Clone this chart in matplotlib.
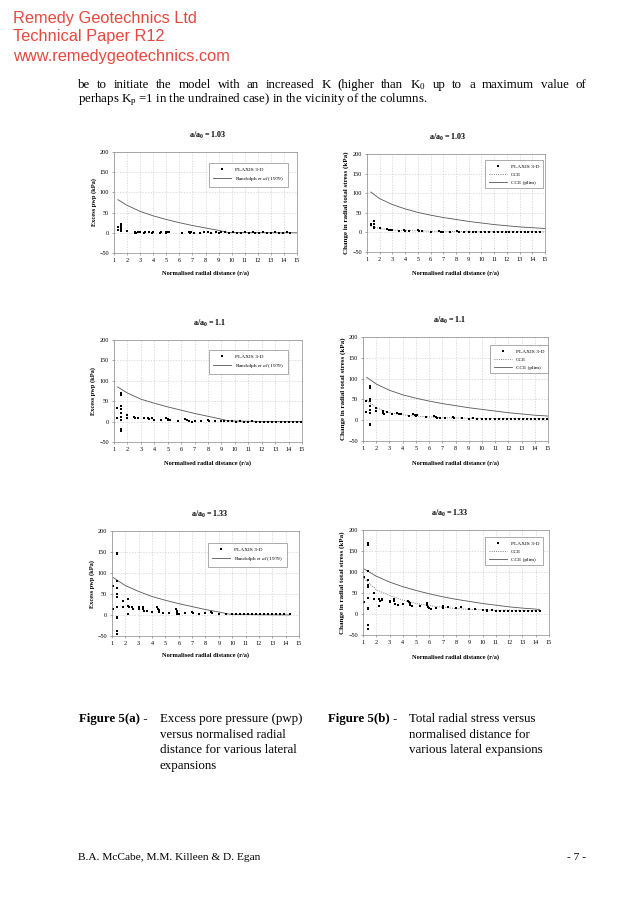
import matplotlib
matplotlib.use('Agg')
import matplotlib.pyplot as plt
from matplotlib.lines import Line2D

# --- page size in pixels ---
W, H = 638, 902

plt.rcParams['font.family'] = 'Liberation Serif'
plt.rcParams['mathtext.fontset'] = 'custom'
plt.rcParams['mathtext.rm'] = 'Liberation Serif'
plt.rcParams['mathtext.it'] = 'Liberation Serif:italic'
plt.rcParams['mathtext.bf'] = 'Liberation Serif:bold'

# --- data ---
# PLAXIS 3-D points (r/a, value)
pwp_103_pts = [(1.3, 14), (1.3, 8), (1.55, 22), (1.55, 18), (1.55, 12), (1.55, 7), (1.55, 4),
               (2.0, 5), (2.6, 3), (2.6, 0), (2.7, -1), (2.8, 1), (3.0, 2), (3.3, 0), (3.4, 1),
               (3.7, 1), (3.9, 0), (4.0, 1), (4.5, 0), (4.6, 1), (5.0, 2), (5.0, 0), (5.1, 1),
               (5.2, 1), (6.2, 0), (6.7, 1), (6.8, 0), (6.9, 1), (7.1, 0), (7.6, 0), (7.9, 1),
               (8.2, 1), (8.4, 0), (8.8, 1), (9.0, 0), (9.2, 1), (9.5, 1), (9.8, 0), (10.1, 1),
               (10.4, 0), (10.7, 0), (11.0, 1), (11.3, 0), (11.6, 1), (11.8, 0), (12.1, 0),
               (12.4, 1), (12.7, 0), (13.0, 0), (13.3, 1), (13.6, 0), (13.9, 0), (14.2, 1), (14.5, 0)]
srt_103_pts = [(1.3, 22), (1.3, 18), (1.55, 28), (1.55, 22), (1.55, 15), (1.55, 10), (2.0, 12),
               (2.6, 8), (2.7, 6), (2.8, 7), (3.0, 5), (3.5, 4), (3.9, 5), (4.0, 3), (4.3, 4),
               (5.0, 5), (5.1, 3), (5.3, 4), (6.0, 2), (6.7, 3), (6.8, 2), (7.0, 2), (7.5, 2),
               (8.1, 3), (8.2, 2), (8.6, 2), (9.0, 2), (9.3, 2), (9.6, 2), (10.0, 2), (10.3, 2),
               (10.6, 2), (11.0, 2), (11.3, 2), (11.6, 2), (11.9, 2), (12.2, 2), (12.5, 2),
               (12.8, 2), (13.1, 2), (13.4, 2), (13.7, 2), (14.0, 2), (14.3, 2), (14.6, 2)]
pwp_11_pts = [(1.25, 33), (1.25, 8), (1.55, 70), (1.55, 66), (1.55, 38), (1.55, 30), (1.55, 22),
              (1.55, 12), (1.55, 5), (1.55, -18), (1.55, -22), (2.0, 17), (2.0, 10), (2.5, 12),
              (2.55, 10), (2.6, 8), (2.8, 10), (3.2, 8), (3.5, 10), (3.6, 7), (3.8, 8), (4.0, 5),
              (4.5, 3), (4.9, 9), (5.0, 6), (5.05, 3), (5.2, 5), (5.8, 2), (6.3, 6), (6.4, 3),
              (6.6, 1), (6.8, 0), (7.0, 1), (7.5, 2), (8.0, 3), (8.1, 1), (8.5, 1), (9.0, 2),
              (9.2, 1), (9.5, 1), (9.8, 1), (10.1, 0), (10.4, 1), (10.7, 0), (11.0, 0), (11.3, 1),
              (11.6, 0), (11.9, 0), (12.2, 0), (12.5, 0), (12.8, 0), (13.1, 0), (13.4, 0),
              (13.7, 0), (14.0, 0), (14.3, 0), (14.6, 0), (14.9, 0)]
srt_11_pts = [(1.25, 47), (1.25, 20), (1.55, 82), (1.55, 78), (1.55, 50), (1.55, 45), (1.55, 35),
              (1.55, 25), (1.55, 18), (1.55, -8), (1.55, -12), (2.0, 30), (2.0, 22), (2.5, 22),
              (2.55, 18), (2.6, 15), (2.8, 20), (3.2, 16), (3.6, 18), (3.7, 15), (3.9, 14),
              (4.5, 10), (4.8, 14), (4.9, 12), (5.0, 10), (5.1, 12), (5.8, 7), (6.4, 10),
              (6.5, 8), (6.6, 6), (6.8, 5), (7.2, 5), (7.8, 7), (7.9, 5), (8.5, 5), (9.0, 4),
              (9.3, 5), (9.6, 4), (10.0, 3), (10.3, 4), (10.6, 3), (11.0, 3), (11.3, 3), (11.6, 3),
              (11.9, 3), (12.2, 3), (12.5, 3), (12.8, 3), (13.1, 3), (13.4, 3), (13.7, 3),
              (14.0, 3), (14.3, 3), (14.6, 3), (14.9, 3)]
pwp_133_pts = [(1.1, 68), (1.1, 15), (1.4, 148), (1.4, 145), (1.4, 82), (1.4, 65), (1.4, 50),
               (1.4, 42), (1.4, 20), (1.4, -5), (1.4, -8), (1.4, -38), (1.4, -45), (1.8, 33),
               (1.8, 18), (2.2, 38), (2.2, 22), (2.25, 20), (2.3, 18), (2.2, 2), (2.5, 20),
               (2.6, 15), (3.0, 18), (3.05, 15), (3.3, 20), (3.35, 14), (3.4, 10), (3.6, 10),
               (4.0, 8), (4.4, 18), (4.45, 15), (4.5, 12), (4.5, 8), (4.8, 5), (5.3, 5), (5.8, 15),
               (5.85, 10), (5.9, 5), (5.9, 2), (6.0, 3), (6.5, 5), (7.0, 8), (7.05, 5), (7.5, 3),
               (8.0, 5), (8.4, 6), (8.45, 4), (9.0, 3), (9.5, 3), (10.0, 2), (10.3, 2), (10.6, 2),
               (10.9, 2), (11.2, 2), (11.5, 2), (11.8, 2), (12.1, 2), (12.4, 2), (12.7, 2),
               (13.0, 2), (13.3, 2), (13.6, 2), (13.9, 2), (14.3, 2)]
srt_133_pts = [(1.1, 87), (1.1, 28), (1.4, 168), (1.4, 165), (1.4, 102), (1.4, 80), (1.4, 70),
               (1.4, 65), (1.4, 38), (1.4, 15), (1.4, 12), (1.4, -25), (1.4, -35), (1.8, 50),
               (1.8, 35), (2.2, 35), (2.25, 32), (2.3, 30), (2.2, 18), (2.4, 35), (2.45, 33),
               (3.0, 32), (3.05, 28), (3.3, 36), (3.35, 30), (3.4, 25), (3.6, 22), (4.0, 25),
               (4.4, 30), (4.45, 28), (4.5, 26), (4.5, 22), (4.7, 18), (5.3, 18), (5.8, 26),
               (5.85, 22), (5.9, 16), (5.95, 14), (6.1, 13), (6.5, 15), (7.0, 18), (7.05, 15),
               (7.4, 16), (8.0, 15), (8.4, 16), (9.0, 12), (9.4, 12), (10.0, 10), (10.3, 10),
               (10.35, 8), (10.7, 9), (11.0, 8), (11.3, 8), (11.6, 8), (11.9, 8), (12.2, 8),
               (12.5, 8), (12.8, 8), (13.1, 8), (13.4, 8), (13.7, 8), (14.0, 8), (14.3, 8)]

# Randolph et al (1979) curves
rand_103_r = [1.3, 2, 3, 4, 5, 6, 7, 8, 9, 9.7, 10.5, 12, 13.5, 15]
rand_103_v = [82, 68, 53, 42, 33, 25, 18, 12, 6, 1, 0.5, 0.3, 0.2, 0]
rand_11_r = [1.27, 2, 3, 4, 5, 6, 7, 8, 9, 9.5, 10.5, 12, 13.5, 15]
rand_11_v = [85, 70, 55, 45, 36, 28, 20, 13, 6, 2, 1, 0.5, 0.3, 0]
rand_133_r = [1.1, 2, 3, 4, 5, 6, 7, 8, 9, 9.8, 11, 12.5, 14.3]
rand_133_v = [89, 70, 56, 44, 35, 27, 20, 13, 7, 2, 1, 0.5, 0.3]

# CCE and CCE (plim) curves
cce_103_r = [1.3, 2, 3, 4, 5, 6, 8, 10, 12, 15]
cce_103_v = [16, 10, 6, 5, 4, 3, 2.5, 2, 2, 1.8]
plim_103_r = [1.3, 2, 3, 4, 5, 6, 7, 8, 9, 10, 11, 12, 13, 14, 15]
plim_103_v = [103, 86, 71, 60, 51, 44, 38, 33, 28, 24, 20, 17, 14, 12, 10]
cce_11_r = [1.28, 2, 3, 4, 5, 6, 7, 8, 9, 10, 12, 15]
cce_11_v = [48, 30, 18, 13, 10, 8, 6, 5.5, 5, 4.5, 4, 3.5]
plim_11_r = [1.28, 2, 3, 4, 5, 6, 7, 8, 9, 10, 11, 12, 13, 14, 15]
plim_11_v = [103, 87, 72, 61, 53, 46, 40, 35, 30, 26, 22, 18, 15, 12, 10]
cce_133_r = [1.1, 1.5, 2, 3, 4, 5, 6, 7, 8, 9, 10, 11, 12, 13, 14.3]
cce_133_v = [85, 72, 58, 44, 33, 25, 20, 16, 13, 11, 10, 9, 9, 8.5, 8]
plim_133_r = [1.1, 2, 3, 4, 5, 6, 7, 8, 9, 10, 11, 12, 13, 14.3]
plim_133_v = [107, 90, 76, 65, 56, 48, 41, 35, 30, 25, 21, 17, 14, 11]

x_ticks = list(range(1, 16))
y_ticks = [-50, 0, 50, 100, 150, 200]

fig = plt.figure(figsize=(W / 100, H / 100), dpi=100)


def fx(x):
    return x / W


def fy(y):
    return 1 - y / H


def panel(box, title, ylab, title_x, ylab_x, xlab_y, pts, curves, legend_box):
    left, right, top, bottom = box
    ax = fig.add_axes([fx(left), fy(bottom), (right - left) / W, (bottom - top) / H])
    ax.set_xlim(1, 15)
    ax.set_ylim(-50, 200)
    ax.set_xticks(x_ticks)
    ax.set_yticks(y_ticks)
    ax.grid(True, color='#c4c4c4', lw=0.4, ls=(0, (2.5, 2.5)))
    ax.set_axisbelow(True)
    ax.tick_params(labelsize=4.4, length=1.5, width=0.4, pad=2, color='#666666')
    for s in ax.spines.values():
        s.set_linewidth(0.5)
        s.set_color('#8a8a8a')

    handles = [Line2D([], [], ls='none', marker='s', ms=1.8, color='k', mew=0)]
    labels = ['PLAXIS 3-D']
    for r, v, ls, lab in curves:
        ln, = ax.plot(r, v, color='#555555', lw=0.6, ls=ls)
        handles.append(ln)
        labels.append(lab)
    xs = [p[0] for p in pts]
    ys = [p[1] for p in pts]
    ax.plot(xs, ys, ls='none', marker='s', ms=1.8, color='k', mew=0, clip_on=False)

    lr, lt = legend_box
    leg = ax.legend(handles, labels, loc='upper right', bbox_to_anchor=(fx(lr), fy(lt)),
                    bbox_transform=fig.transFigure, fontsize=3.9, frameon=True,
                    fancybox=False, edgecolor='#8a8a8a', framealpha=1, handlelength=3.4,
                    borderpad=0.7, labelspacing=0.6, handletextpad=0.7, borderaxespad=0)
    leg.get_frame().set_linewidth(0.5)

    fig.text(fx(title_x), fy(top - 17), title, ha='center', va='center',
             fontsize=5.8, fontweight='bold')
    fig.text(fx(ylab_x), fy((top + bottom) / 2), ylab, rotation=90, ha='center',
             va='center', fontsize=4.6 if 'pwp' in ylab else 5.0, fontweight='bold')
    fig.text(fx((left + right) / 2), fy(xlab_y), 'Normalised radial distance (r/a)',
             ha='center', va='center', fontsize=4.6, fontweight='bold')
    return ax


rand_lab = r'Randolph $\mathit{et\ al}$ (1979)'
pwp_lab = 'Excess pwp (kPa)'
srt_lab = 'Change in radial total stress (kPa)'

panel((114, 297, 152, 253), r'a/a$_\mathbf{0}$ = 1.03', pwp_lab, 208, 94, 273,
      pwp_103_pts, [(rand_103_r, rand_103_v, '-', rand_lab)], (288, 163))
panel((367, 545, 154, 252), r'a/a$_\mathbf{0}$ = 1.03', srt_lab, 448, 346, 273,
      srt_103_pts, [(cce_103_r, cce_103_v, ':', 'CCE'), (plim_103_r, plim_103_v, '-', 'CCE (plim)')],
      (543, 160))
panel((114, 302, 340, 442), r'a/a$_\mathbf{0}$ = 1.1', pwp_lab, 210, 93, 463,
      pwp_11_pts, [(rand_11_r, rand_11_v, '-', rand_lab)], (288, 350))
panel((363, 548, 337, 441), r'a/a$_\mathbf{0}$ = 1.1', srt_lab, 450, 343, 463,
      srt_11_pts, [(cce_11_r, cce_11_v, ':', 'CCE'), (plim_11_r, plim_11_v, '-', 'CCE (plim)')],
      (548, 345))
panel((112, 299, 531, 636), r'a/a$_\mathbf{0}$ = 1.33', pwp_lab, 210, 92, 655,
      pwp_133_pts, [(rand_133_r, rand_133_v, '-', rand_lab)], (287, 543))
panel((363, 549, 530, 635), r'a/a$_\mathbf{0}$ = 1.33', srt_lab, 450, 342, 657,
      srt_133_pts, [(cce_133_r, cce_133_v, ':', 'CCE'), (plim_133_r, plim_133_v, '-', 'CCE (plim)')],
      (543, 537))

# --- page header ---
red = '#e5483f'
for i, line in enumerate(['Remedy Geotechnics Ltd', 'Technical Paper R12',
                          'www.remedygeotechnics.com']):
    fig.text(fx(13), fy(18 + 19 * i), line, family='Liberation Sans', color=red,
             fontsize=11.8, ha='left', va='center')

# --- justified body text line ---
body_size = 9.3
words = ['be', 'to', 'initiate', 'the', 'model', 'with', 'an', 'increased', 'K', '(higher',
         'than', r'K$_0$', 'up', 'to', 'a', 'maximum', 'value', 'of']
renderer = fig.canvas.get_renderer()
word_texts = [fig.text(0, fy(85), w, fontsize=body_size, va='center') for w in words]
widths = [t.get_window_extent(renderer).width for t in word_texts]
x0, x1 = 78, 586
gap = (x1 - x0 - sum(widths)) / (len(words) - 1)
pos = x0
for t, w in zip(word_texts, widths):
    t.set_x(fx(pos))
    pos += w + gap
fig.text(fx(78), fy(100), r'perhaps K$_\mathrm{p}$ =1 in the undrained case) in the vicinity of the columns.',
         fontsize=body_size, va='center')

# --- captions ---
cap_y = [719, 735, 750, 766]
fig.text(fx(79), fy(cap_y[0]), 'Figure 5(a) -', fontsize=body_size, fontweight='bold', va='center')
for y, line in zip(cap_y, ['Excess pore pressure (pwp)', 'versus normalised radial',
                           'distance for various lateral', 'expansions']):
    fig.text(fx(160), fy(y), line, fontsize=body_size, va='center')
fig.text(fx(328), fy(cap_y[0]), 'Figure 5(b) -', fontsize=body_size, fontweight='bold', va='center')
for y, line in zip(cap_y, ['Total radial stress versus', 'normalised distance for',
                           'various lateral expansions']):
    fig.text(fx(409), fy(y), line, fontsize=body_size, va='center')

# --- footer ---
fig.text(fx(78), fy(858), 'B.A. McCabe, M.M. Killeen & D. Egan', fontsize=8.2, va='center')
fig.text(fx(586), fy(858), '- 7 -', fontsize=8.2, va='center', ha='right')

fig.savefig('out.png', dpi=100)
